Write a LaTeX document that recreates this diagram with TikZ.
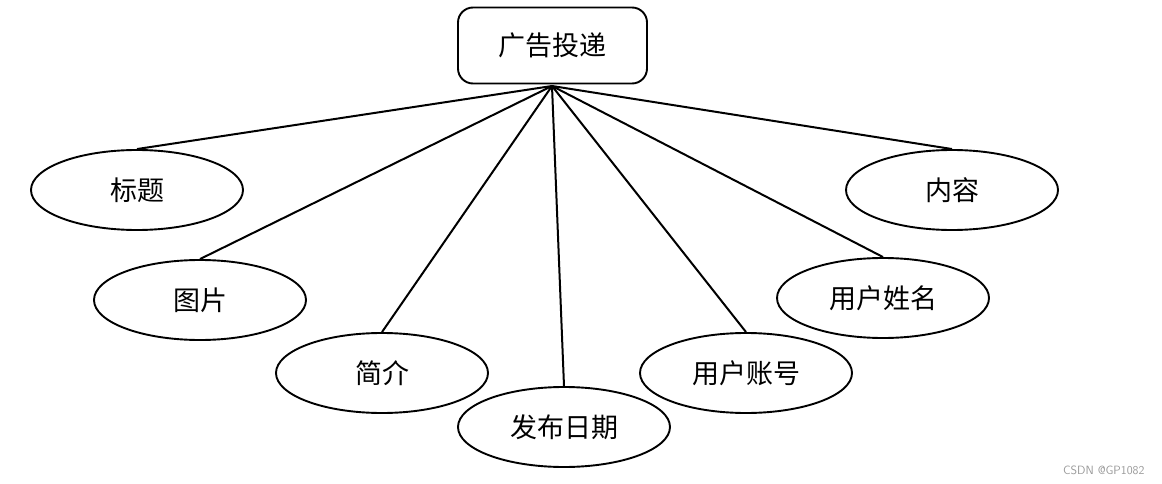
\documentclass[tikz,border=0pt]{standalone}
\usepackage{fontspec}
\newfontfamily\cjk{Noto Sans CJK SC}
\usetikzlibrary{shapes.geometric}
\begin{document}
\begin{tikzpicture}[x=1pt,y=-1pt,
  attr/.style={draw=black,line width=1.9pt,ellipse,minimum width=212pt,minimum height=80pt,inner sep=0pt,fill=white,font=\cjk\fontsize{27}{30}\selectfont},
  ent/.style={draw=black,line width=1.9pt,rounded corners=15pt,minimum width=189pt,minimum height=76pt,inner sep=0pt,fill=white,font=\cjk\fontsize{27}{30}\selectfont},
  link/.style={line width=2pt}]
\useasboundingbox (0,0) rectangle (1162,484);
\node[ent] (e) at (552.5,45.5) {广告投递};
\coordinate (hub) at (552,86);
\node[attr] (a1) at (137,190) {标题};
\node[attr] (a2) at (200,300) {图片};
\node[attr] (a3) at (382,373) {简介};
\node[attr] (a4) at (564,427) {发布日期};
\node[attr] (a5) at (746,373) {用户账号};
\node[attr] (a6) at (883,298) {用户姓名};
\node[attr] (a7) at (952,190) {内容};
\foreach \a in {a1,a2,a3,a4,a5,a6,a7}
  \draw[link] (hub) -- (\a.north);
\node[anchor=east,text=black!40,font=\sffamily\fontsize{12}{14}\selectfont] (wm) at (1148,470) {CSDN @GP1082};
\end{tikzpicture}
\end{document}
